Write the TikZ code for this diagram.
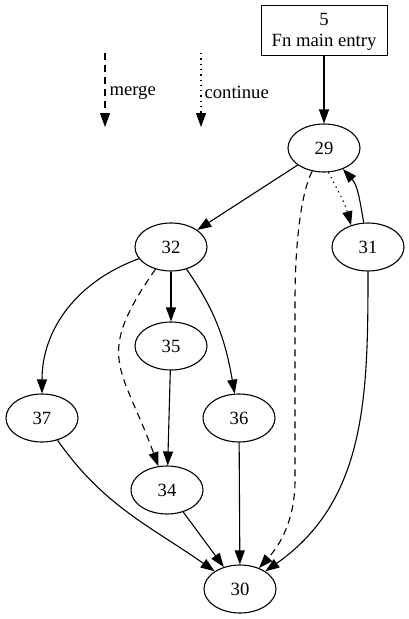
\documentclass[tikz,border=0pt]{standalone}
\usepackage{fontspec}
\setmainfont{Liberation Serif}
\usetikzlibrary{shapes.geometric,arrows.meta}

\begin{document}
\begin{tikzpicture}[x=1pt,y=-1pt,line width=1.1pt,
  font=\fontsize{18.67}{21}\selectfont,
  blk/.style={draw,ellipse,minimum width=72pt,minimum height=48pt,inner sep=0pt},
  entry/.style={draw,line width=1pt,rectangle,align=center,minimum width=126pt,minimum height=50pt,inner sep=0pt,text depth=0pt},
  edge/.style={-{Triangle[length=14pt,width=10pt]}},
  merge/.style={edge,dash pattern=on 7pt off 5pt},
  cont/.style={edge,dash pattern=on 1.3pt off 4pt}]
\useasboundingbox (0,0) rectangle (409,619);
% legend
\coordinate (m1) at (105,53); \coordinate (m2) at (105,127);
\coordinate (c1) at (201,53); \coordinate (c2) at (201,127);
\draw[merge] (m1) -- node[right,inner sep=4pt,yshift=-3pt] {merge} (m2);
\draw[cont] (c1) -- node[right,inner sep=3pt,yshift=-2pt] {continue} (c2);
% blocks
\node[entry] (n5) at (324,30) {5\\Fn main entry};
\node[blk] (n29) at (324,148) {29};
\node[blk] (n32) at (171,247) {32};
\node[blk] (n31) at (368,247) {31};
\node[blk] (n35) at (171,346) {35};
\node[blk] (n37) at (42,418) {37};
\node[blk] (n36) at (239,418) {36};
\node[blk] (n34) at (167,490) {34};
\node[blk] (n30) at (240,589) {30};
% edges
\draw[edge] (n5) -- (n29);
\draw[edge] (n29) -- (n32);
\draw[cont] (n29.-80) to[out=-62,in=105] (n31.128);
\draw[edge] (n31) to[out=100,in=-48] (n29);
\draw[merge] (n29) .. controls (300,195) and (295,250) .. (295,300)
  -- (295,480) .. controls (295,520) and (280,545) .. (n30);
\draw[edge] (n31) to[out=-90,in=35] (n30);
\draw[edge] (n32) to[out=200,in=90] (n37);
\draw[edge] (n32) -- (n35);
\draw[edge] (n32) to[out=-55,in=100] (n36);
\draw[merge] (n32) to[out=-125,in=110,looseness=1.4] (n34);
\draw[edge] (n35) -- (n34);
\draw[edge] (n37) to[out=-55,in=145] (n30);
\draw[edge] (n34) -- (n30);
\draw[edge] (n36) -- (n30);
\end{tikzpicture}
\end{document}
